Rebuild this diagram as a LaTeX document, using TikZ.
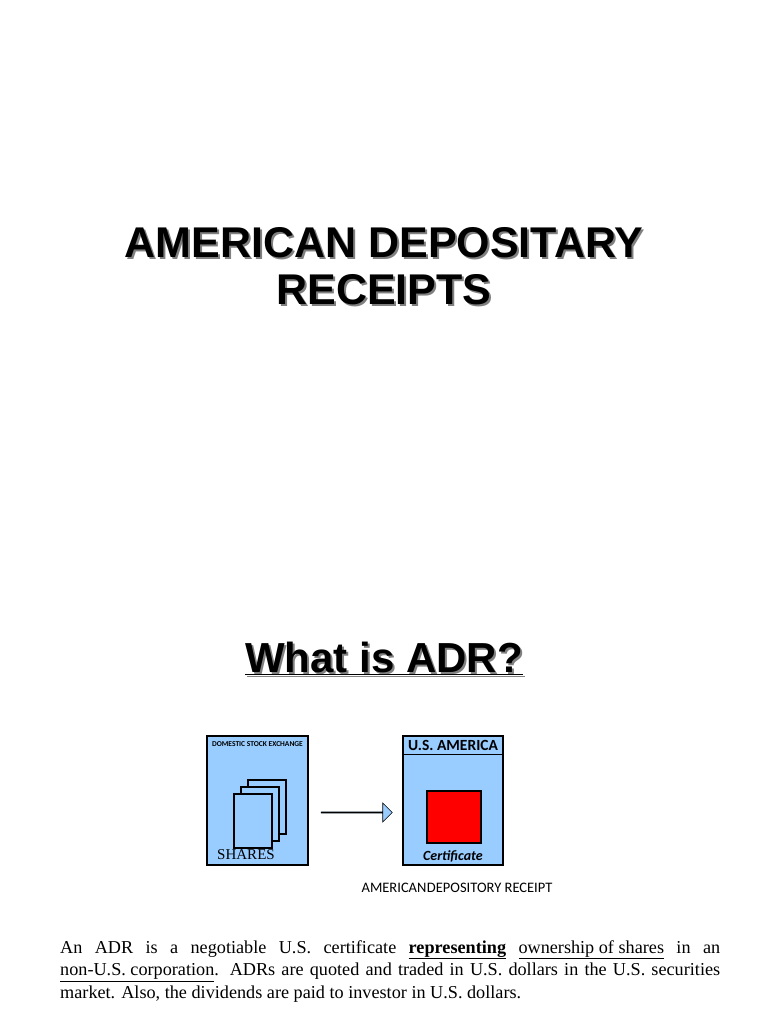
\documentclass[tikz,border=0pt]{standalone}
\usepackage{fontspec}
\setmainfont{Liberation Serif}
\setsansfont{Liberation Sans}
\newfontfamily\carl{Carlito}
\usetikzlibrary{shapes.arrows}
\definecolor{lb}{RGB}{153,204,255}
\tikzset{panel/.style={draw=black,line width=1.6pt,fill=lb},
 page/.style={draw=black,line width=1.3pt,fill=lb}}
\begin{document}
\begin{tikzpicture}[x=1pt,y=-1pt]
\useasboundingbox (0,0) rectangle (768,1024);
% title with shadow
\foreach \dx/\c in {2/gray,0/black}{
\node[text=\c,font=\sffamily\bfseries\fontsize{43}{47}\selectfont,align=center] at (384+\dx,266+\dx) {AMERICAN DEPOSITARY\\RECEIPTS};
\node[text=\c,font=\sffamily\bfseries\fontsize{42}{47}\selectfont] at (384+\dx,658+\dx) {\underline{What is ADR?}};
}
% left panel
\draw[panel] (207,736) rectangle (308,865);
\node[font=\carl\bfseries\fontsize{7.5}{8}\selectfont] (dse) at (257.5,744) {DOMESTIC STOCK EXCHANGE};
\draw[page] (248,780) rectangle (286,834);
\draw[page] (241,787) rectangle (279,841);
\draw[page] (234,794) rectangle (272,848);
\node[font=\fontsize{15}{16}\selectfont] (sh) at (246,855) {SHARES};
% arrow
\node[single arrow,draw=black,line width=0.6pt,fill=lb,minimum height=71pt,minimum width=19pt,single arrow head extend=5pt,inner sep=0pt] (arr) at (356.5,812.5) {};
% right panel
\draw[panel] (403,736) rectangle (503,865);
\draw[black,line width=0.8pt] (403,754) -- (503,754);
\node[font=\carl\bfseries\fontsize{15.5}{16}\selectfont] (usa) at (453,745) {U.S. AMERICA};
\draw[black,line width=1.3pt,fill=red] (427,791) rectangle (481,843);
\node[font=\carl\bfseries\itshape\fontsize{14}{16}\selectfont] (cert) at (453,856) {Certificate};
\node[font=\carl\fontsize{14.5}{16}\selectfont] (adr) at (457,888) {AMERICAN\hspace{0.5pt}DEPOSITORY RECEIPT};
% paragraph
\node[anchor=north west,text width=660pt,align=justify,font=\fontsize{18.2}{22.5}\selectfont,inner sep=0pt] (par) at (60,940)
{An ADR is a negotiable U.S. certificate \underline{\textbf{representing}} \underline{ownership of shares} in an \underline{non-U.S. corporation}. ADRs are quoted and traded in U.S. dollars in the U.S. securities market. Also, the dividends are paid to investor in U.S. dollars.};
\end{tikzpicture}
\end{document}
